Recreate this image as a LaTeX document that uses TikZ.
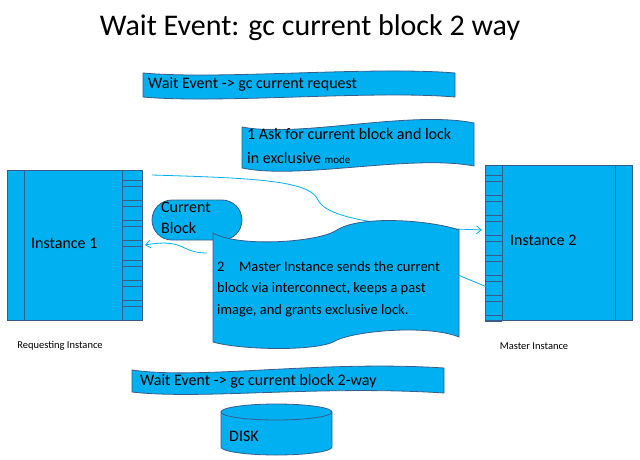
\documentclass[tikz,border=0pt]{standalone}
\usepackage{fontspec}
\setmainfont{Carlito}
\usetikzlibrary{shapes.geometric,arrows.meta}
\definecolor{fillc}{HTML}{00B0F0}
\definecolor{linec}{HTML}{385D8A}
\tikzset{
 shp/.style={fill=fillc,draw=linec,line width=0.8pt},
 txt/.style={inner sep=0pt,font=\fontsize{16}{19}\selectfont,align=left},
 conn/.style={draw=fillc,line width=0.8pt,-{Straight Barb[length=5pt,width=8pt]}},
 lbl/.style={font=\fontsize{10.5}{12}\selectfont}
}
\begin{document}
\begin{tikzpicture}[x=1pt,y=-1pt]
\useasboundingbox (0,0) rectangle (640,460);
\node (title) at (310,28) {\fontsize{30}{36}\selectfont Wait Event: gc current block 2 way};
% banner 1
\draw[shp] (143,73) .. controls (220,80) and (370,66) .. (455,73) -- (455,97) .. controls (370,90) and (220,104) .. (143,97) -- cycle;
\node[txt,anchor=west] (b1) at (148,84) {Wait Event -> gc current request};
% banner 2
\draw[shp] (242,127) .. controls (300,138) and (410,110) .. (474,123) -- (474,166) .. controls (410,154) and (300,180) .. (242,168) -- cycle;
\node[txt,anchor=north west,font=\fontsize{16}{24}\selectfont] (b2) at (247,128) {1 Ask for current block and lock\\in exclusive {\fontsize{11}{12}\selectfont mode}};
% instance 1
\draw[shp] (7,170) rectangle (142,320);
\draw[linec,line width=0.8pt] (24,170) -- (24,320) (122,170) -- (122,320);
\foreach \y in {180,200,...,300} \draw[linec,line width=0.8pt] (122,\y) -- (142,\y) (122,\y+6) -- (142,\y+6);
\node[txt,anchor=west] (i1) at (31,243) {Instance 1};
\coordinate (i1in) at (145,245);
\coordinate (i1out) at (152,175);
% instance 2
\draw[shp] (485,165) rectangle (632,320);
\draw[linec,line width=0.8pt] (502,165) -- (502,320) (615,165) -- (615,320);
\foreach \y in {175,195,...,315} \draw[linec,line width=0.8pt] (485,\y) -- (502,\y) (485,\y+6) -- (502,\y+6);
\node[txt,anchor=west] (i2) at (510,240) {Instance 2};
\coordinate (i2in) at (482,230);
\coordinate (i2out) at (487,287);
% current block
\node[shp,rounded corners=20pt,minimum width=90pt,minimum height=40pt,inner sep=0pt] (cb) at (197,220) {};
\node[txt,anchor=north west,font=\fontsize{16}{21}\selectfont] (cbt) at (161,202) {Current\\Block};
% connectors
\draw[conn] (i1out) .. controls (250,178) and (310,180) .. (318,200) .. controls (330,225) and (430,228) .. (i2in);
\coordinate (a2s) at (207,253);
\draw[conn] (a2s) .. controls (180,253) and (185,238) .. (i1in);
\coordinate (a2e) at (458,275);
\draw[fillc,line width=0.8pt] (i2out) -- (a2e);
% banner 3
\draw[shp] (213,233) .. controls (240,248) and (320,242) .. (337,230) .. controls (360,215) and (430,220) .. (459,230) -- (459,337) .. controls (430,325) and (360,330) .. (337,340) .. controls (320,352) and (240,350) .. (213,342) -- cycle;
\node[txt,anchor=north west,font=\fontsize{14.5}{21.5}\selectfont] (b3) at (217,261) {2\quad Master Instance sends the current\\block via interconnect, keeps a past\\image, and grants exclusive lock.};
% labels
\node[lbl] (l1) at (60,346) {Requesting Instance};
\node[lbl] (l2) at (534,346) {Master Instance};
% banner 4
\draw[shp] (132,370) .. controls (200,380) and (320,360) .. (444,368) -- (444,393) .. controls (320,385) and (200,400) .. (132,392) -- cycle;
\node[txt,anchor=west] (b4) at (140,381) {Wait Event -> gc current block 2-way};
% disk
\draw[shp] (221,412) -- (221,447) arc[start angle=180,end angle=0,x radius=55.5,y radius=8] -- (332,412);
\draw[shp] (276.5,412) ellipse[x radius=55.5,y radius=8];
\node[txt,anchor=west] (disk) at (229,436) {DISK};
\end{tikzpicture}
\end{document}
